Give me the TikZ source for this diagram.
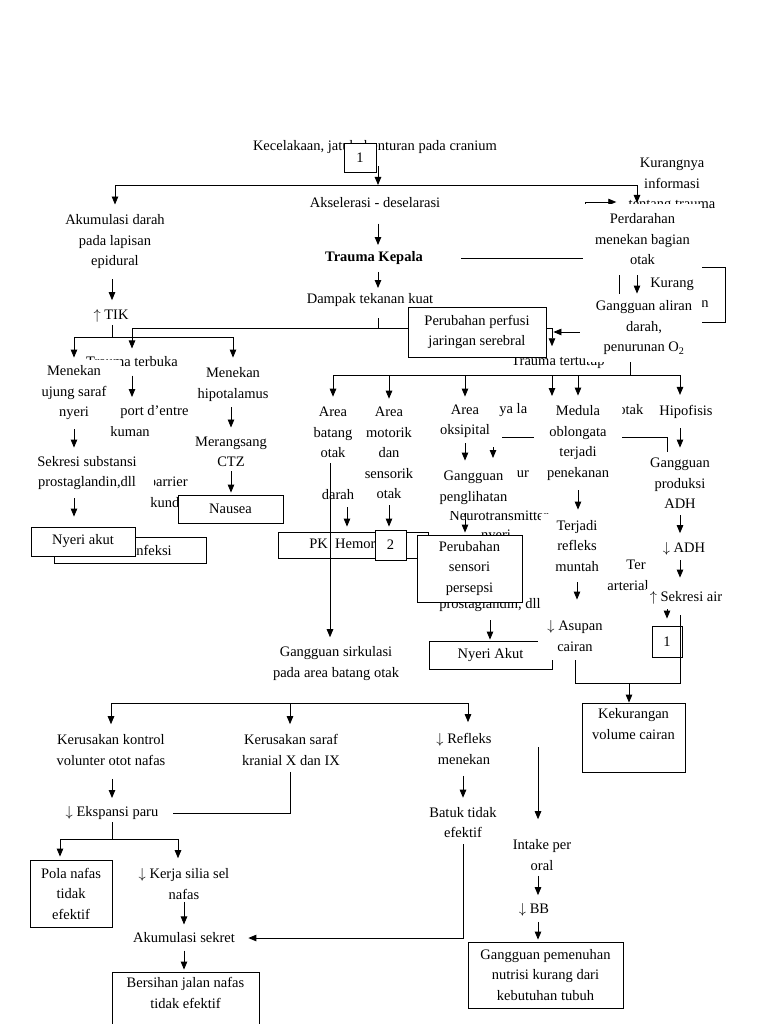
\documentclass[tikz,border=0pt]{standalone}
\usepackage{fontspec}
\setmainfont{Liberation Serif}
\usetikzlibrary{arrows.meta,calc}
\newcommand{\diagfont}{\fontsize{14.5pt}{20.5pt}\selectfont}

\begin{document}
\begin{tikzpicture}[x=1pt, y=-1pt, line width=0.85pt,
        every node/.style={font=\diagfont, align=center, inner sep=0pt},
        box/.style={draw, fill=white},
        cover/.style={fill=white},
        arr/.style={-{Triangle[length=8pt,width=6.5pt]}}]
        \fill[white] (0,0) rectangle (768,1024);
        \useasboundingbox (0,0) rectangle (768,1024);

        % Top chain
        \node (kec) at (375,147) {Kecelakaan, jatuh, benturan pada cranium};
        \node[box, minimum width=32pt, minimum height=29pt] (one) at (360,157.5) {1};
        \node (aksel) at (375,203) {Akselerasi - deselarasi};
        \node (tk) at (374,258) {\bfseries Trauma Kepala};
        \node (dtk) at (370,300) {Dampak tekanan kuat};
        \node (akum) at (115,242) {Akumulasi darah\\pada lapisan\\epidural};
        \node (tik) at (111,316) {$\uparrow$ TIK};

        % Texts lying under the frames
        \node (kur) at (672,185) {Kurangnya\\informasi\\tentang trauma};
        \node[draw, minimum width=106pt, minimum height=55pt] (kp) at (672,294.5) {Kurang\\pengetahuan};
        \node (ttb) at (132,362) {Trauma terbuka};
        \node (ttp) at (558,362) {Trauma tertutup};
        \node[anchor=west] (pde) at (120,412) {port d'entre};
        \node (kum) at (130,432) {kuman};
        \node[anchor=east] (bar) at (188,482) {barrier};
        \node[anchor=west] (sku) at (150,503) {kunder};
        \node (dar) at (338,495) {darah};
        \node[anchor=west] (yla) at (499,410) {ya la};
        \node[anchor=west] (otk) at (618,410) {otak};
        \node (ur) at (523,474) {ur};
        \node[anchor=west] (ntm) at (449,516) {Neurotransmitter};
        \node (nyr) at (496,536) {nyeri};
        \node (pdl) at (490,605) {prostaglandin, dll};
        \node (ter) at (636,565) {Ter};
        \node (art) at (628,586) {arterial};

        % Lines under the frames
        \coordinate (kc) at (585,202);
        \draw[arr, shorten <=38pt, shorten >=12pt] (tk.east) -| (kc) -- (kc -| kur.west);
        \coordinate (hl) at (502,437);
        \coordinate (hr) at (667,455);
        \draw (hl) -| (hr);
        \coordinate (dj) at (378,328);
        \coordinate (dr) at (552,328);
        \draw[shorten <=11pt] (dtk.south -| dj) -- (dj);
        \draw[arr, shorten >=8pt] (dj) -| (ttb.north);
        \draw[arr, shorten >=9pt] (dj) -- (dr) -- (dr |- ttp.north);

        % Frames and boxes
        \node[cover, minimum width=119pt, minimum height=71pt] (pdr) at (642.5,239.5) {Perdarahan\\menekan bagian\\otak};
        \node[cover, minimum width=116pt, minimum height=68pt] (gad) at (644,328) {Gangguan aliran\\darah,\\penurunan O\textsubscript{2}};
        \node[box, minimum width=138pt, minimum height=50pt] (ppj) at (477,332) {Perubahan perfusi\\jaringan serebral};
        \node[cover, minimum width=92pt, minimum height=66pt] (meu) at (74,393) {Menekan\\ujung saraf\\nyeri};
        \node[cover, minimum width=89pt, minimum height=41pt] (mhp) at (233,384.5) {Menekan\\hipotalamus};
        \node (mct) at (231,452) {Merangsang\\CTZ};
        \node[box, minimum width=105pt, minimum height=28pt] (nau) at (230.5,509) {Nausea};
        \node[cover, minimum width=134pt, minimum height=40pt] (ssp) at (87,473) {Sekresi substansi\\prostaglandin,dll};
        \node[box, minimum width=152pt, minimum height=26pt] (rin) at (130,550) {};
        \node (inf) at (152,550) {infeksi};
        \node[box, minimum width=104pt, minimum height=29pt] (nya) at (83,541.5) {Nyeri akut};

        \node (aba) at (333,432.5) {Area\\batang\\otak};
        \node (amo) at (389,453) {Area\\motorik\\dan\\sensorik\\otak};
        \node[cover, minimum width=58pt, minimum height=43pt] (aok) at (465,421.5) {Area\\oksipital};
        \node[cover, minimum width=75pt, minimum height=46pt] (ggp) at (473.5,488) {Gangguan\\penglihatan};
        \node[cover, minimum width=88pt, minimum height=86pt] (med) at (578,443) {Medula\\oblongata\\terjadi\\penekanan};
        \node[cover, minimum width=72pt, minimum height=64pt] (tjr) at (577,546) {Terjadi\\refleks\\muntah};
        \node (hip) at (686,412) {Hipofisis};
        \node[cover, minimum width=80pt, minimum height=63pt] (gpa) at (680,483.5) {Gangguan\\produksi\\ADH};
        \node (adh) at (684,549) {$\downarrow$ ADH};
        \node[cover, minimum width=80pt, minimum height=17pt] (sek) at (686,597.5) {$\uparrow$ Sekresi air};
        \node[box, minimum width=30pt, minimum height=31pt] (onb) at (667,641.5) {1};

        \node[box, minimum width=150pt, minimum height=26pt] (pkh) at (353,545) {};
        \node[anchor=west] (pkt) at (309,545) {PK\ \ Hemoragi};
        \node[box, minimum width=31pt, minimum height=30pt] (two) at (390.5,545) {2};
        \node[box, minimum width=105pt, minimum height=67pt] (psp) at (469.5,568.5) {Perubahan\\sensori\\persepsi};
        \node[box, minimum width=123pt, minimum height=28pt] (nyk) at (490.5,655) {Nyeri Akut};
        \node[cover, minimum width=74pt, minimum height=48pt] (asu) at (575,636) {$\downarrow$ Asupan\\cairan};
        \node[box, minimum width=103pt, minimum height=69pt] (kvc) at (633.5,737.5) {Kekurangan\\volume cairan\\\strut};
        \node (gsk) at (336,663.5) {Gangguan sirkulasi\\pada area batang otak};

        % Lower part
        \node (kko) at (111,750) {Kerusakan kontrol\\volunter otot nafas};
        \node (ksk) at (291,750) {Kerusakan saraf\\kranial X dan IX};
        \node (rfm) at (464,749) {$\downarrow$ Refleks\\menekan};
        \node (eks) at (112,813) {$\downarrow$ Ekspansi paru};
        \node[box, minimum width=82pt, minimum height=67pt] (pnf) at (71,893.5) {Pola nafas\\tidak\\efektif};
        \node (kss) at (184,884) {$\downarrow$ Kerja silia sel\\nafas};
        \node (aksek) at (184,938) {Akumulasi sekret};
        \node[box, minimum width=147pt, minimum height=68pt] (bjn) at (185.5,1006) {Bersihan jalan nafas\\tidak efektif\\\strut};
        \node (btk) at (463,822.5) {Batuk tidak\\efektif};
        \node (ipo) at (542,855) {Intake per\\oral};
        \node (bb) at (534,910) {$\downarrow$ BB};
        \node[box, minimum width=155pt, minimum height=66pt] (gpn) at (545.5,975) {Gangguan pemenuhan\\nutrisi kurang dari\\kebutuhan tubuh};

        % Top arrows
        \coordinate (tb) at (378,185);
        \coordinate (kd) at (637,203);
        \draw[arr, shorten <=9pt] (tb |- one.east) -- (tb);
        \draw[arr, shorten >=10pt] (tb) -| (akum.north);
        \draw[arr] (tb) -| (kd);
        \draw[arr, shorten <=15pt, shorten >=6pt] (tb |- aksel.south) -- (tb |- tk.north);
        \draw[arr, shorten <=7pt, shorten >=5pt] (tb |- tk.south) -- (tb |- dtk.north);

        % Left branch
        \coordinate (tj) at (112,337);
        \draw[arr, shorten <=10pt, shorten >=9pt] (tj |- akum.south) -- (tj |- tik.north);
        \draw[shorten <=2pt] (tj |- tik.south) -- (tj);
        \draw[arr, shorten >=2pt] (tj) -| (meu.north);
        \draw[arr, shorten >=6pt] (tj) -| (mhp.north);
        \draw[arr, shorten <=8pt, shorten >=8pt] (ttb.south) -- (ttb.south |- pde.north);
        \draw[arr, shorten <=2pt, shorten >=9pt] (mhp.south -| mct) -- (mct.north);
        \draw[arr, shorten <=4pt, shorten >=2pt] (mct.south) -- (mct.south |- nau.north);
        \draw[arr, shorten <=3pt, shorten >=5pt] (meu.south) -- (meu.south |- ssp.north);
        \draw[arr, shorten <=5pt, shorten >=10pt] (meu.center |- ssp.south) -- (meu.center |- nya.north);

        % Right branch
        \draw[arr] (kd |- pdr.south) -- (kd |- gad.north);
        \draw[arr, shorten <=6pt, shorten >=7pt] (ppj.east -| gad.west) -- (ppj.east);
        \coordinate (gj) at (630,375);
        \draw (gad.south -| gj) -- (gj);
        \draw (aba.north |- gj) -- (gpa.north |- gj);
        \draw[arr, shorten >=10pt] (aba.north |- gj) -- (aba.north);
        \draw[arr, shorten >=8pt] (amo.north |- gj) -- (amo.north);
        \draw[arr, shorten >=3pt] (aok.north |- gj) -- (aok.north);
        \coordinate (hb) at (552,396);
        \draw[arr] (hb |- gj) -- (hb);
        \draw[arr, shorten >=4pt] (med.north |- gj) -- (med.north);
        \draw[arr, shorten >=10pt] (gpa.north |- gj) -- (gpa.north |- hip.north);
        \draw[arr, shorten <=9pt, shorten >=4pt] (gpa.north |- hip.south) -- (gpa.north);

        % Area chains
        \coordinate (hs) at (493,447);
        \coordinate (ht) at (493,458);
        \draw[arr] (hs) -- (ht);
        \coordinate (bl) at (330,463);
        \draw[arr, shorten >=9pt] (bl) -- (bl |- gsk.north);
        \coordinate (da) at (347,507);
        \draw[arr, shorten >=5pt] (da) -- (da |- pkh.north);
        \draw[arr, shorten <=6pt, shorten >=5pt] (amo.south) -- (amo.south |- pkh.north);
        \draw[arr, shorten >=4pt] (aok.south) -- (aok.south |- ggp.north);
        \draw[arr, shorten <=2pt, shorten >=2pt] (aok.south |- ggp.south) -- (aok.south |- psp.north);
        \draw[arr, shorten <=8pt, shorten >=1pt] (pdl.south) -- (pdl.south |- nyk.north);
        \draw[arr, shorten <=4pt, shorten >=4pt] (med.south) -- (med.south |- tjr.north);
        \draw[arr, shorten <=4pt, shorten >=12pt] (tjr.south) -- (tjr.south |- asu.north);
        \draw[arr, shorten >=9pt] (gpa.south) -- (gpa.south |- adh.north);
        \draw[arr, shorten <=4pt, shorten >=11pt] (gpa.south |- adh.south) -- (gpa.south |- sek.north);
        \draw[arr, shorten <=3pt, shorten >=7pt] (onb.north |- sek.south) -- (onb.north);
        \coordinate (mg) at (629,683);
        \draw[shorten <=9pt] (gpa.south |- sek.south) |- (mg);
        \draw (asu.south) |- (mg);
        \draw[arr] (mg) -- (mg |- kvc.north);

        % Lower arrows
        \coordinate (sb) at (290,703);
        \coordinate (sr) at (468,703);
        \draw (kko.north |- sb) -- (sr);
        \draw[arr, shorten >=10pt] (kko.north |- sb) -- (kko.north);
        \draw[arr, shorten >=10pt] (sb) -- (sb |- ksk.north);
        \draw[arr, shorten >=11pt] (sr) -- (sr |- rfm.north);
        \draw[arr, shorten <=13pt, shorten >=8pt] (kko.south -| eks) -- (eks.north);
        \draw[shorten <=6pt, shorten >=14pt] (sb |- ksk.south) |- (eks.east);
        \coordinate (ej) at (112,839);
        \coordinate (el) at (60,839);
        \coordinate (er) at (178,839);
        \draw[shorten <=2pt] (eks.south -| ej) -- (ej);
        \draw (el) -- (er);
        \draw[arr, shorten >=3pt] (el) -- (el |- pnf.north);
        \draw[arr, shorten >=10pt] (er) -- (er |- kss.north);
        \draw[arr, shorten <=2pt, shorten >=8pt] (kss.south) -- (kss.south |- aksek.north);
        \draw[arr, shorten <=7pt, shorten >=2pt] (aksek.south) -- (aksek.south |- bjn.north);
        \draw[arr, shorten <=11pt, shorten >=9pt] (btk.north |- rfm.south) -- (btk.north);
        \draw[arr, shorten <=6pt, shorten >=13pt] (btk.south) |- (aksek.east);
        \coordinate (il) at (538,747);
        \draw[arr, shorten >=20pt] (il) -- (il |- ipo.north);
        \draw[arr, shorten <=5pt, shorten >=8pt] (il |- ipo.south) -- (il |- bb.north);
        \draw[arr, shorten <=5pt, shorten >=2pt] (il |- bb.south) -- (il |- gpn.north);
    \end{tikzpicture}
\end{document}
